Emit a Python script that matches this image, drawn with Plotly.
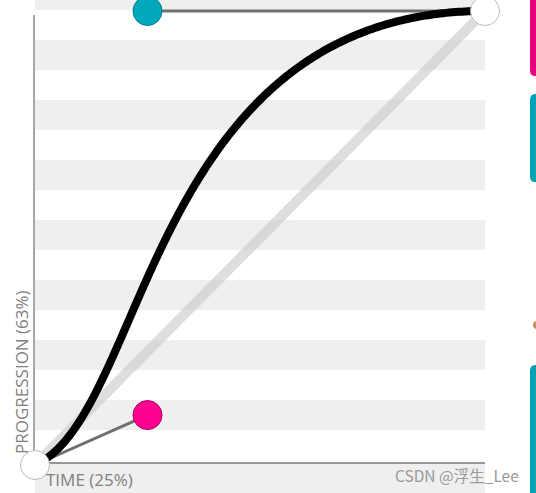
import plotly.graph_objects as go

# cubic-bezier control points
p0 = [0.0, 0.0]
p1 = [0.25, 0.11]
p2 = [0.25, 1.0]
p3 = [1.0, 1.0]

x_label = "TIME (25%)"
y_label = "PROGRESSION (63%)"
watermark = "CSDN @浮生_Lee"

W, H = 536, 493
X0, Y0 = 35, 465      # pixel of (0, 0)
SX, SY = 450, 454     # pixels per unit


def px(x):
    return x / W


def py(y):
    return 1 - y / H


# sample the bezier from the control points
ts = [i / 300 for i in range(301)]
bx, by = [], []
for t in ts:
    a, b, c, d = (1 - t) ** 3, 3 * (1 - t) ** 2 * t, 3 * (1 - t) * t ** 2, t ** 3
    bx.append(a * p0[0] + b * p1[0] + c * p2[0] + d * p3[0])
    by.append(a * p0[1] + b * p1[1] + c * p2[1] + d * p3[1])

fig = go.Figure()

# linear reference
fig.add_trace(go.Scatter(x=[p0[0], p3[0]], y=[p0[1], p3[1]], mode="lines",
                         line=dict(color="rgba(200,200,200,0.6)", width=10),
                         hoverinfo="skip"))
# handles
fig.add_trace(go.Scatter(x=[p0[0], p1[0]], y=[p0[1], p1[1]], mode="lines",
                         line=dict(color="#707070", width=3), hoverinfo="skip"))
fig.add_trace(go.Scatter(x=[p3[0], p2[0]], y=[p3[1], p2[1]], mode="lines",
                         line=dict(color="#707070", width=3), hoverinfo="skip"))
# curve
fig.add_trace(go.Scatter(x=bx, y=by, mode="lines",
                         line=dict(color="#000000", width=8, simplify=False),
                         hoverinfo="skip"))
# points
fig.add_trace(go.Scatter(x=[p0[0], p3[0]], y=[p0[1], p3[1]], mode="markers",
                         marker=dict(size=29, color="white",
                                     line=dict(color="#bbbbbb", width=1))))
fig.add_trace(go.Scatter(x=[p1[0]], y=[p1[1]], mode="markers",
                         marker=dict(size=29, color="#ff0090",
                                     line=dict(color="#b0005f", width=1))))
fig.add_trace(go.Scatter(x=[p2[0]], y=[p2[1]], mode="markers",
                         marker=dict(size=29, color="#00a8bd",
                                     line=dict(color="#007a8a", width=1))))

shapes = []
# striped background
stripe_tops = [-20] + [40 + 60 * k for k in range(7)] + [463]
for top in stripe_tops:
    shapes.append(dict(type="rect", xref="paper", yref="paper",
                       x0=px(35), x1=px(485), y0=py(max(top, 0)), y1=py(min(top + 30, H)),
                       fillcolor="#efefef", line_width=0, layer="below"))
# axes
shapes.append(dict(type="line", xref="paper", yref="paper",
                   x0=px(34), x1=px(34), y0=py(15), y1=py(463),
                   line=dict(color="#888888", width=1.5), layer="below"))
shapes.append(dict(type="line", xref="paper", yref="paper",
                   x0=px(34), x1=px(485), y0=py(463), y1=py(463),
                   line=dict(color="#777777", width=1.5), layer="below"))


def side_bar(y_top, y_bot, color):
    x_l, x_r = 530, 540
    path = (f"M {px(x_r)} {py(y_top)} L {px(x_l + 5)} {py(y_top)} "
            f"Q {px(x_l)} {py(y_top)} {px(x_l)} {py(y_top + 6)} "
            f"L {px(x_l)} {py(y_bot - 6)} Q {px(x_l)} {py(y_bot)} {px(x_l + 5)} {py(y_bot)} "
            f"L {px(x_r)} {py(y_bot)} Z")
    return dict(type="path", xref="paper", yref="paper", path=path,
                fillcolor=color, line_width=0)


shapes.append(side_bar(-20, 76, "#e6007e"))
shapes.append(side_bar(94, 182, "#00a3b4"))
shapes.append(side_bar(365, 520, "#00a3b4"))
shapes.append(dict(type="circle", xref="paper", yref="paper",
                   x0=px(533), x1=px(541), y0=py(321), y1=py(329),
                   fillcolor="#c8905a", line_width=0))

fig.update_layout(
    width=W, height=H,
    margin=dict(l=0, r=0, t=0, b=0),
    paper_bgcolor="white", plot_bgcolor="rgba(0,0,0,0)",
    showlegend=False,
    font=dict(family="Open Sans", color="#888888"),
    xaxis=dict(range=[-X0 / SX, (W - X0) / SX], visible=False, fixedrange=True),
    yaxis=dict(range=[-(H - Y0) / SY, Y0 / SY], visible=False, fixedrange=True),
    shapes=shapes,
    annotations=[
        dict(text=x_label, xref="paper", yref="paper", x=px(44), y=py(479),
             xanchor="left", yanchor="middle", showarrow=False,
             font=dict(size=17, color="#808080")),
        dict(text=y_label, xref="paper", yref="paper", x=px(21), y=py(372),
             xanchor="center", yanchor="middle", textangle=-90, showarrow=False,
             font=dict(size=17, color="#808080")),
        dict(text=watermark, xref="paper", yref="paper", x=px(521), y=py(475),
             xanchor="right", yanchor="middle", showarrow=False,
             font=dict(size=15.5, color="#9a9a9a", family="Noto Sans CJK SC")),
    ],
)

fig.write_html("out.html", config={"displayModeBar": False},
               post_script="document.body.style.margin='0';")
